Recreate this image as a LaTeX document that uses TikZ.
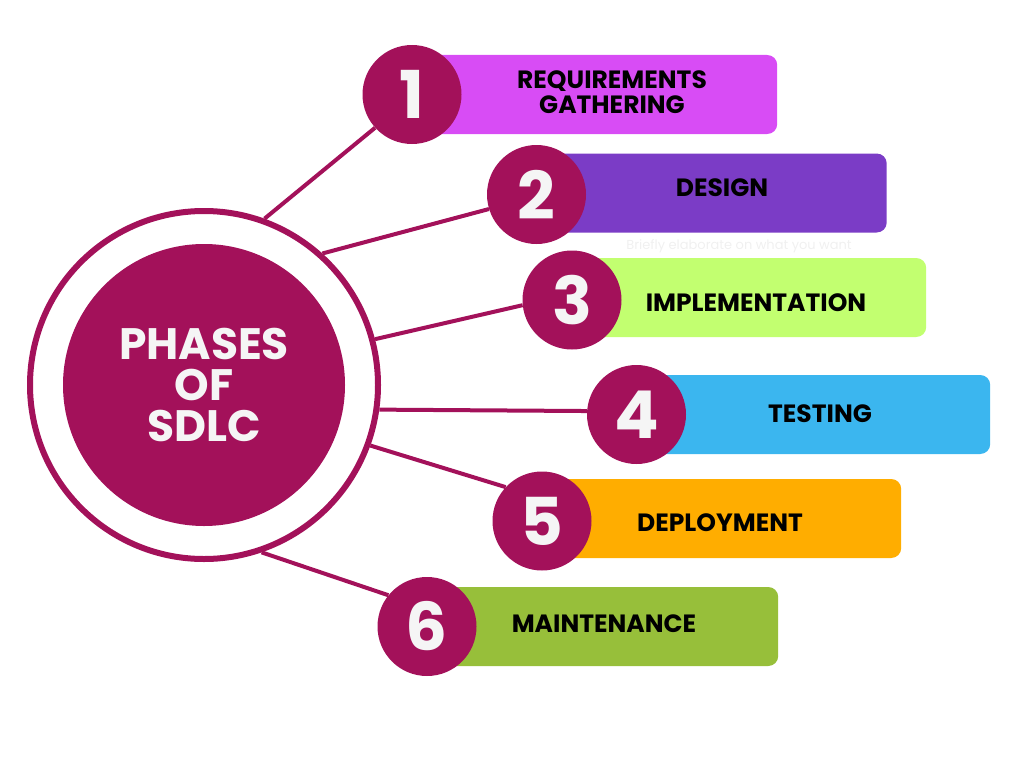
\documentclass[tikz,border=0pt]{standalone}
\usepackage{fontspec}
\setmainfont{Poppins}
\usetikzlibrary{backgrounds}

\definecolor{sdlcred}{HTML}{A3115A}
\definecolor{numwhite}{HTML}{F5F5F5}
\definecolor{barreq}{HTML}{D84CF5}
\definecolor{bardes}{HTML}{7B3CC6}
\definecolor{barimp}{HTML}{C2FF70}
\definecolor{bartest}{HTML}{3BB6EF}
\definecolor{bardep}{HTML}{FFAD00}
\definecolor{barmain}{HTML}{97BF3A}
\definecolor{hinttext}{HTML}{F0F0F0}

\begin{document}
\begin{tikzpicture}[
    x=1pt, y=-1pt,
    link/.style={line width=4pt, sdlcred},
    phasebar/.style={rectangle, rounded corners=10pt, anchor=west, inner sep=0pt,
                     minimum height=79pt},
    numdot/.style={circle, fill=sdlcred, inner sep=0pt, minimum size=99pt,
                   text=numwhite, font=\fontsize{66}{66}\selectfont\bfseries},
    phasetext/.style={align=center, inner sep=0pt, text=black,
                      font=\fontsize{25}{25}\selectfont\bfseries},
  ]
  \useasboundingbox (0,0) rectangle (1024,768);

  % === Centre: ring and disc ===
  \node[circle, draw=sdlcred, line width=6pt, inner sep=0pt, minimum size=348pt] (ring) at (204,385) {};
  \node[circle, fill=sdlcred, inner sep=0pt, minimum size=282pt, align=center,
        text=numwhite, font=\fontsize{44}{41}\selectfont\bfseries] (core) at (204,385)
        {PHASES\\OF\\SDLC};

  % === Bars ===
  \node[phasebar, fill=barreq, minimum width=365pt] (bar1) at (412,94.5) {};
  \node[phasebar, fill=bardes, minimum width=350pt] (bar2) at (536.5,193) {};
  \node[font=\fontsize{13}{13}\selectfont, text=hinttext] (hint) at (739,246)
        {Briefly elaborate on what you want};
  \node[phasebar, fill=barimp, minimum width=354pt] (bar3) at (572,297.5) {};
  \node[phasebar, fill=bartest, minimum width=353.5pt] (bar4) at (636.5,414.5) {};
  \node[phasebar, fill=bardep, minimum width=359pt] (bar5) at (542,518.5) {};
  \node[phasebar, fill=barmain, minimum width=351pt] (bar6) at (427,626.5) {};

  % === Numbers ===
  \node[numdot] (n1) at (412,94.5) {1};
  \node[numdot] (n2) at (536.5,194.5) {2};
  \node[numdot] (n3) at (572,300) {3};
  \node[numdot] (n4) at (636.5,414.5) {4};
  \node[numdot] (n5) at (542,521) {5};
  \node[numdot] (n6) at (427,626.5) {6};

  % === Labels ===
  \node[phasetext] (t1) at (612,92) {REQUIREMENTS\\GATHERING};
  \node[phasetext] (t2) at (722,188) {DESIGN};
  \node[phasetext] (t3) at (756,303) {IMPLEMENTATION};
  \node[phasetext] (t4) at (820,413.5) {TESTING};
  \node[phasetext] (t5) at (720,523) {DEPLOYMENT};
  \node[phasetext] (t6) at (604,624) {MAINTENANCE};

  % === Connectors ===
  \begin{scope}[on background layer]
    \draw[link] (ring.70) -- (n1.222);
    \draw[link] (ring.48) -- (n2.197);
    \draw[link] (ring.15.4) -- (n3.186);
    \draw[link] (ring.-8.4) -- (n4.176);
    \draw[link] (ring.-20.4) -- (n5.137);
    \draw[link] (ring.-71.5) -- (n6.141);
  \end{scope}

\end{tikzpicture}
\end{document}
